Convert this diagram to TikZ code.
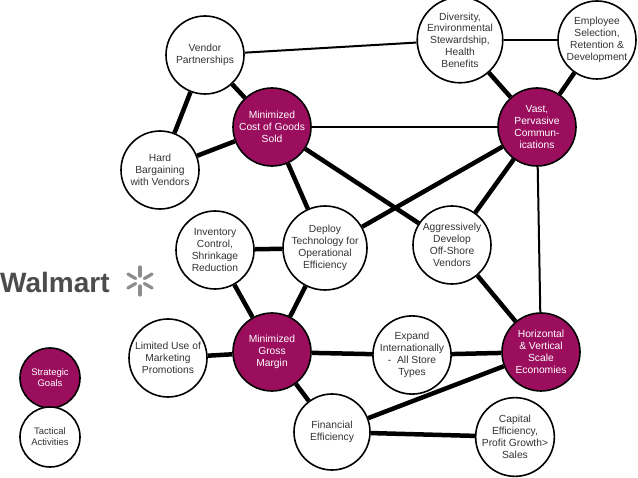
\documentclass[tikz,border=0pt]{standalone}
\usepackage{fontspec}
\usetikzlibrary{calc}
\setmainfont{Liberation Sans}
\definecolor{goal}{HTML}{9B0E5E}
\begin{document}
\begin{tikzpicture}[x=1pt,y=-1pt,
  tac/.style={circle,draw=black,line width=1.6pt,fill=white,minimum size=78pt,inner sep=0pt,align=center,font=\fontsize{10.3}{11.8}\selectfont,text=black!80},
  goal/.style={tac,fill=goal,text=white},
  thick/.style={line width=4.5pt},
  thin/.style={line width=2pt}]
\useasboundingbox (0,0) rectangle (638,478);
\node[tac] (vp) at (205,55) {Vendor\\Partnerships};
\node[tac] (div) at (460,40) {Diversity,\\Environmental\\Stewardship,\\Health\\Benefits};
\node[tac] (emp) at (597,40) {Employee\\Selection,\\Retention \&\\Development};
\node[goal] (cogs) at (272,127) {Minimized\\Cost of Goods\\Sold};
\node[goal] (vast) at (537,127) {Vast,\\Pervasive\\Commun-\\ications};
\node[tac] (hb) at (160,170) {Hard\\Bargaining\\with Vendors};
\node[tac] (inv) at (215,250) {Inventory\\Control,\\Shrinkage\\Reduction};
\node[tac,minimum size=84pt] (dep) at (325,248) {Deploy\\Technology for\\Operational\\Efficiency};
\node[tac] (agg) at (452,245) {Aggressively\\Develop\\Off-Shore\\Vendors};
\node[tac] (lim) at (168,358) {Limited Use of\\Marketing\\Promotions};
\node[goal] (gm) at (272,352) {Minimized\\Gross\\Margin};
\node[tac] (exp) at (412,355) {Expand\\Internationally\\- \ All Store\\Types};
\node[goal] (hv) at (541,352) {Horizontal\\\& Vertical\\Scale\\Economies};
\node[tac,minimum size=76pt] (fin) at (332,432) {Financial\\Efficiency};
\node[tac] (cap) at (515,437) {Capital\\Efficiency,\\Profit Growth>\\Sales};
\node[goal,minimum size=60pt,font=\fontsize{9.5}{11}\selectfont] (sg) at (50,378) {Strategic\\Goals};
\node[tac,minimum size=60pt,font=\fontsize{9.5}{11}\selectfont] (ta) at (50,437) {Tactical\\Activities};
\node[font=\bfseries\fontsize{28}{28}\selectfont,text=black!70,anchor=west,inner sep=0pt] (wm) at (0,282) {Walmart};
\coordinate (spark) at (140,281);
\foreach \ang in {90,150,210,270,330,30}
  \draw[line width=3.2pt,line cap=round,black!45] ($(spark)+(\ang:5)$) -- ($(spark)+(\ang:14)$);
\foreach \a/\b/\s in {vp/div/thin,div/emp/thin,div/vast/thick,emp/vast/thick,vp/hb/thick,vp/cogs/thick,cogs/hb/thick,cogs/vast/thin,cogs/dep/thick,cogs/agg/thick,vast/dep/thick,vast/agg/thick,vast/hv/thin,agg/hv/thick,inv/dep/thick,inv/gm/thick,dep/gm/thick,lim/gm/thick,gm/exp/thick,exp/hv/thick,gm/fin/thick,fin/hv/thick,fin/cap/thick}
  \draw[\s] (\a) -- (\b);
\end{tikzpicture}
\end{document}
